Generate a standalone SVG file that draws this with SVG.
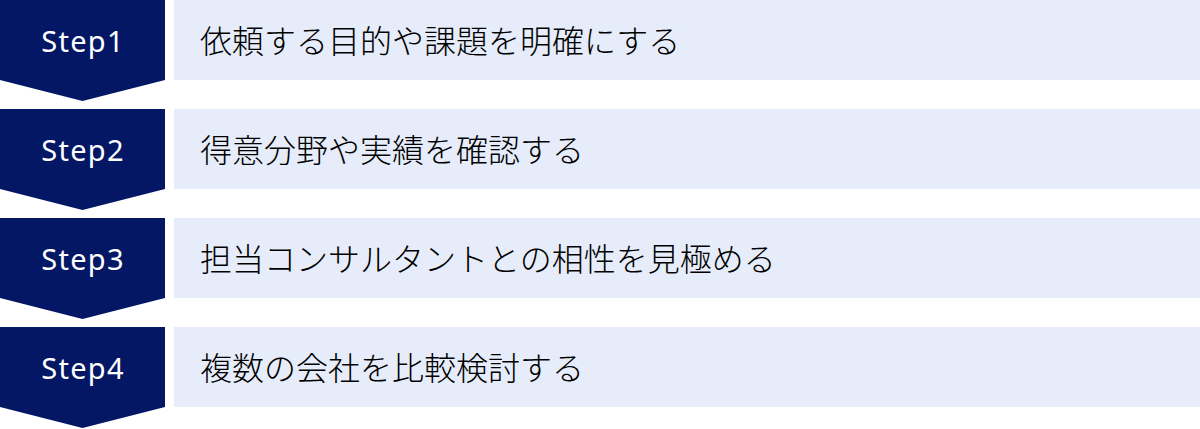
<svg xmlns="http://www.w3.org/2000/svg" width="1200" height="429" viewBox="0 0 1200 429">
<style>
.arrow{fill:#031764}
.box{fill:#E6ECF9}
.step{font-family:"Noto Sans","Noto Sans CJK JP",sans-serif;font-size:29px;font-weight:400;fill:#FFFFFF;letter-spacing:1.3px}
.label{font-family:"Noto Sans CJK JP",sans-serif;font-size:32px;font-weight:300;fill:#000000}
</style>
<rect width="1200" height="429" fill="#FFFFFF"/>
<g id="step1">
<polygon class="arrow" points="0,0 165,0 165,80 82.5,101 0,80"/>
<rect class="box" x="174" y="0" width="1026" height="80"/>
<text class="step" x="83" y="52" text-anchor="middle">Step1</text>
<text class="label" x="200" y="53">依頼する目的や課題を明確にする</text>
</g>
<g id="step2">
<polygon class="arrow" points="0,109 165,109 165,189 82.5,210 0,189"/>
<rect class="box" x="174" y="109" width="1026" height="80"/>
<text class="step" x="83" y="161" text-anchor="middle">Step2</text>
<text class="label" x="200" y="162">得意分野や実績を確認する</text>
</g>
<g id="step3">
<polygon class="arrow" points="0,218 165,218 165,298 82.5,319 0,298"/>
<rect class="box" x="174" y="218" width="1026" height="80"/>
<text class="step" x="83" y="270" text-anchor="middle">Step3</text>
<text class="label" x="200" y="271">担当コンサルタントとの相性を見極める</text>
</g>
<g id="step4">
<polygon class="arrow" points="0,327 165,327 165,407 82.5,428 0,407"/>
<rect class="box" x="174" y="327" width="1026" height="80"/>
<text class="step" x="83" y="379" text-anchor="middle">Step4</text>
<text class="label" x="200" y="380">複数の会社を比較検討する</text>
</g>
<g id="connectors"></g>
</svg>
